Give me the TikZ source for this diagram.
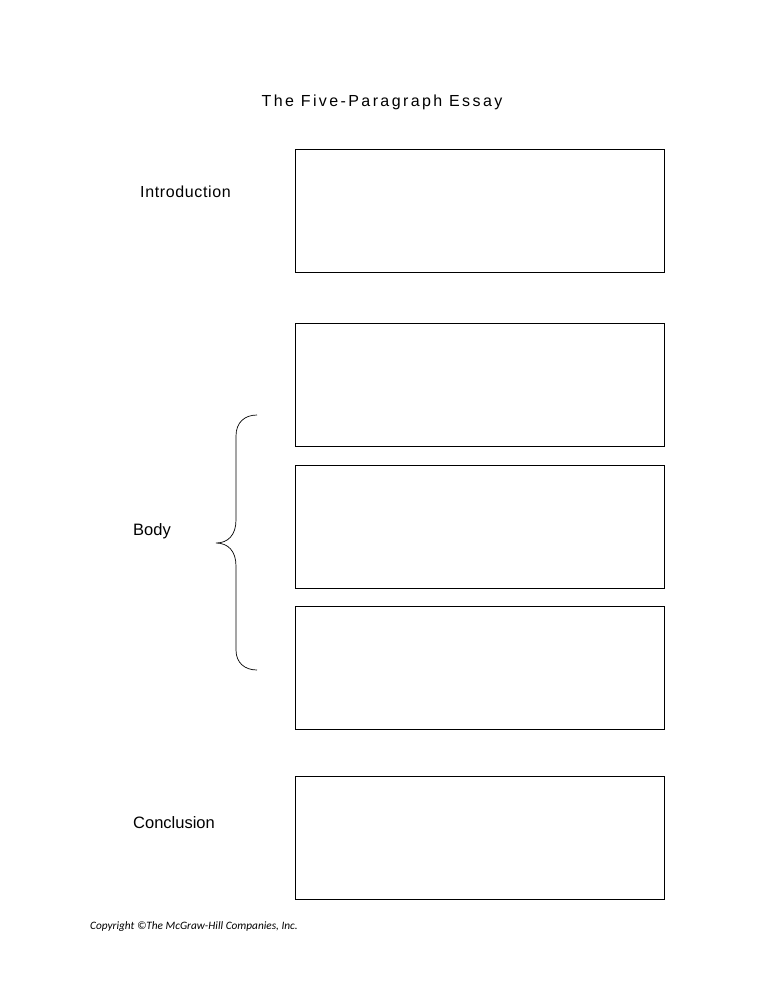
\documentclass[tikz,border=0pt]{standalone}
\usepackage{fontspec}
\setmainfont{Liberation Sans}
\newfontfamily\copyfont{Carlito}
\newfontfamily\spaced[LetterSpace=15]{Liberation Sans}
\newfontfamily\slight[LetterSpace=4]{Liberation Sans}
\begin{document}
\begin{tikzpicture}[x=1pt,y=-1pt,
  essaybox/.style={draw,line width=0.8pt,minimum width=369pt,minimum height=123pt,inner sep=0pt},
  lbl/.style={font=\fontsize{16.5}{19}\selectfont,inner sep=0pt}]
\useasboundingbox (0,0) rectangle (768,994);
\node[font=\fontsize{16}{19}\spaced] (title) at (382,102) {The Five-Paragraph Essay};
\node[essaybox] (b1) at (479.5,210.5) {};
\node[essaybox] (b2) at (479.5,384.5) {};
\node[essaybox] (b3) at (479.5,526.5) {};
\node[essaybox] (b4) at (479.5,667.5) {};
\node[essaybox] (b5) at (479.5,837.5) {};
\node[lbl,anchor=west,font=\fontsize{16}{19}\slight] (intro) at (140,192) {Introduction};
\node[lbl,anchor=west] (body) at (133,531) {Body};
\node[lbl,anchor=west] (concl) at (133,823) {Conclusion};
\draw[line width=0.7pt] (257,415) .. controls (245,415) and (236,422) .. (236,436)
  -- (236,520) .. controls (236,535) and (228,543) .. (216,543)
  .. controls (228,543) and (236,551) .. (236,566)
  -- (236,650) .. controls (236,663) and (245,670) .. (257,670);
\node[anchor=west,inner sep=0pt,font=\copyfont\itshape\fontsize{11.3}{13}\selectfont] (copy) at (90,927) {Copyright \textcopyright The McGraw-Hill Companies, Inc.};
\end{tikzpicture}
\end{document}
